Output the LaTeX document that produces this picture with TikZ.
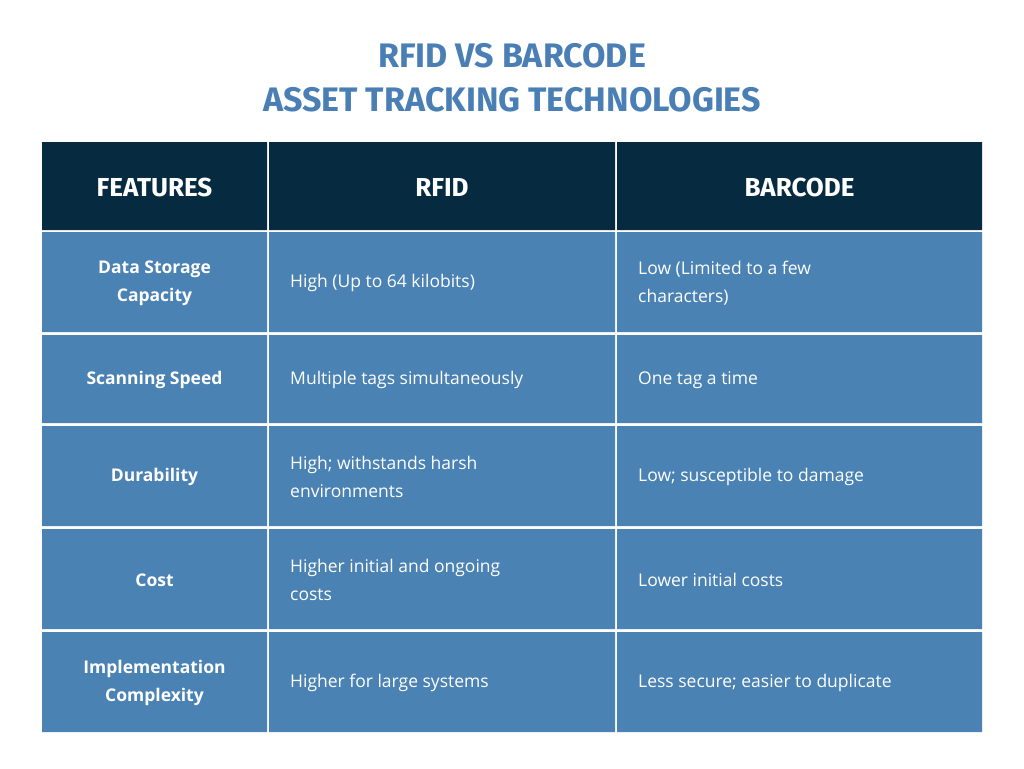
\documentclass[tikz,border=0pt]{standalone}
\usepackage{fontspec}
\setmainfont{Open Sans}
\newfontfamily\titlefont{Fira Sans}
\definecolor{navy}{HTML}{062B40}
\definecolor{cell}{HTML}{4A82B4}
\definecolor{ttl}{HTML}{4A7FB6}
\begin{document}
\begin{tikzpicture}[x=1pt,y=-1pt,
  hd/.style={fill=navy,text=white,font=\titlefont\bfseries\fontsize{26}{30}\selectfont,inner sep=0},
  cl/.style={fill=cell,text=white,font=\fontsize{17.5}{28}\selectfont,inner sep=0},
  fe/.style={cl,font=\bfseries\fontsize{17.5}{28}\selectfont}]
\useasboundingbox (0,0) rectangle (1024,768);
\node[text=ttl,font=\titlefont\bfseries\fontsize{34}{44}\selectfont,align=center] (title) at (512,78) {RFID VS BARCODE\\ASSET TRACKING TECHNOLOGIES};
\def\xa{42}\def\xb{267}\def\xc{269}\def\xd{615}\def\xe{617}\def\xf{982}
\fill[navy] (\xa,142) rectangle (\xb,230) (\xc,142) rectangle (\xd,230) (\xe,142) rectangle (\xf,230);
\node[hd] (h1) at (154.5,187) {FEATURES};
\node[hd] (h2) at (442,187) {RFID};
\node[hd] (h3) at (799.5,187) {BARCODE};
\foreach \t/\b in {232/332,335/423,426/526,529/629,632/732}{
  \fill[cell] (\xa,\t) rectangle (\xb,\b) (\xc,\t) rectangle (\xd,\b) (\xe,\t) rectangle (\xf,\b);}
\foreach \y/\f/\r/\bc [count=\i] in {283/{Data Storage\\Capacity}/{High (Up to 64 kilobits)}/{Low (Limited to a few\\characters)},
 380/{Scanning Speed}/{Multiple tags simultaneously}/{One tag a time},
 477/{Durability}/{High; withstands harsh\\environments}/{Low; susceptible to damage},
 580/{Cost}/{Higher initial and ongoing\\costs}/{Lower initial costs},
 683/{Implementation\\Complexity}/{Higher for large systems}/{Less secure; easier to duplicate}}{
  \node[fe,align=center] (f\i) at (154.5,\y) {\f};
  \node[cl,align=left,anchor=west] (r\i) at (290,\y) {\r};
  \node[cl,align=left,anchor=west] (b\i) at (638,\y) {\bc};
}
\end{tikzpicture}
\end{document}
